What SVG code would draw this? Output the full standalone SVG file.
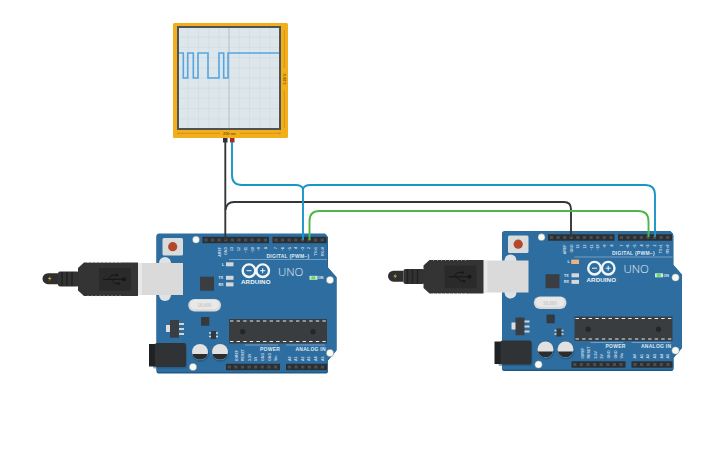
<svg xmlns="http://www.w3.org/2000/svg" width="725" height="453" viewBox="0 0 725 453">
<style>
text{font-family:"Liberation Sans",Arial,sans-serif}
.pin{font-size:3.6px;fill:#cfdde9;font-weight:bold}
.pe{text-anchor:end}
.sec{font-size:5px;fill:#dfe9f2;font-weight:bold;letter-spacing:.25px}
.small{font-size:3.6px;fill:#e3edf5;font-weight:bold}
.logo{font-size:6.2px;fill:#eef4f9;font-weight:bold;letter-spacing:.1px}
.uno{font-family:"Open Sans","Liberation Sans",sans-serif;font-size:11.500px;font-weight:300;fill:#e4edf4}
.xtal{font-size:4.5px;fill:#c9c9c9;font-weight:bold}
.hdr{fill:#2b2f32}
.hp{stroke:#4a4e51;stroke-width:3;stroke-dasharray:3.2 3.4;fill:none}
.sl{stroke:#8fb6d4;stroke-width:.7;fill:none}
.hole{fill:#fbf9ee;stroke:#1f5a87;stroke-width:.4}
.led{fill:#d3d8dc}
.wire{fill:none;stroke-width:1.9;stroke-linecap:butt}
.grid{stroke:#cfdbe1;stroke-width:.6;fill:none}
.scopeText{font-size:3.8px;fill:#7a5a10;font-weight:bold}
.axis{stroke:#b98512;stroke-width:.6;fill:none}
</style>
<defs>
<g id="board-art">
<path d="M159 234H325L328 237V267L336.500 277V350L328 360V371Q328 373 326 373H158.500Q156.500 373 156.500 371V236Q156.500 234 159 234Z" fill="#1f5a87" transform="translate(0,.6)"/>
<path d="M159 233.500H325L327.500 236V267L336.500 277V350L328 360V370.500Q328 372 326 372H158.500Q156.500 372 156.500 370V236Q156.500 233.500 159 233.500Z" fill="#2e6d9f"/>
<rect class="hdr" x="202.500" y="236.800" width="66.500" height="6.400"/>
<line class="hp" x1="204.400" y1="240" x2="268" y2="240"/>
<rect class="hdr" x="272.500" y="236.800" width="54" height="6.400"/>
<line class="hp" x1="274.400" y1="240" x2="326" y2="240"/>
<rect class="hdr" x="226" y="363.800" width="54" height="6.400"/>
<line class="hp" x1="227.700" y1="367" x2="279" y2="367"/>
<rect class="hdr" x="286" y="363.800" width="41" height="6.400"/>
<line class="hp" x1="287.900" y1="367" x2="326" y2="367"/>
<rect x="162.500" y="238" width="20.500" height="17.500" rx="1.500" fill="#d9dcdd"/>
<circle cx="172.700" cy="246.700" r="4.600" fill="#b4482a"/>
<circle class="hole" cx="196" cy="239.700" r="3.600"/>
<circle class="hole" cx="330" cy="280" r="3.800"/>
<circle class="hole" cx="330" cy="353" r="3.800"/>
<circle class="hole" cx="193" cy="367" r="3.800"/>
<rect x="159" y="257" width="12" height="44" rx="6" fill="#dfe3e6"/>
<rect x="200" y="276.700" width="14" height="14" fill="#3a3e42"/>
<rect class="led" x="226" y="262.300" width="7.500" height="4"/>
<rect class="led" x="226" y="275.800" width="7.500" height="4"/>
<rect class="led" x="226" y="282.400" width="7.500" height="4"/>
<rect x="309.500" y="275.800" width="8" height="4" fill="#d3e6d5"/>
<rect x="311.300" y="276.300" width="4" height="3" fill="#5fdc5f"/>
<line class="sl" x1="229" y1="259.500" x2="327" y2="259.500"/>
<circle cx="249" cy="270.700" r="6.300" fill="none" stroke="#f2f6f9" stroke-width="2.400"/>
<circle cx="262.700" cy="270.700" r="6.300" fill="none" stroke="#f2f6f9" stroke-width="2.400"/>
<path d="M246.500 270.700H251.500M260.200 270.700H265.200M262.700 268.200V273.200" stroke="#f2f6f9" stroke-width="1" fill="none"/>
<rect x="188.300" y="299" width="32.700" height="12.500" rx="6.200" fill="#d9d9d9"/>
<rect x="190" y="299.800" width="29" height="9.500" rx="4.700" fill="#e8e8e8"/>
<rect x="166" y="325" width="4.500" height="7" fill="#dedede"/>
<rect x="170" y="320" width="9" height="17.700" fill="#3a3e42"/>
<path d="M179 324H184M179 329H184M179 334H184" stroke="#d4d4d4" stroke-width="2.200" fill="none"/>
<rect x="201" y="317" width="8.300" height="8.700" rx=".6" fill="#34393d"/>
<path d="M209 333H218M209 336.500H218" stroke="#d9d9d9" stroke-width="1.500" stroke-dasharray="2.500 4"/>
<rect x="211" y="331" width="5" height="8" fill="#34393d"/>
<rect x="229" y="319" width="98" height="24.500" fill="#3a3d40"/>
<line x1="230" y1="321" x2="326.500" y2="321" stroke="#ececec" stroke-width="1.100" stroke-dasharray="3.400 3.200"/>
<line x1="230" y1="341.500" x2="326.500" y2="341.500" stroke="#ececec" stroke-width="1.100" stroke-dasharray="3.400 3.200"/>
<circle cx="242.700" cy="331.700" r="2.700" fill="#24272a"/>
<circle cx="313" cy="331.700" r="2.700" fill="#24272a"/>
<line class="sl" x1="245" y1="345" x2="278" y2="345"/>
<line class="sl" x1="286" y1="345" x2="325" y2="345"/>
<rect x="153" y="344.500" width="34" height="24" rx="1.500" fill="#1f4f75" opacity=".5"/>
<rect x="149" y="344" width="7" height="22.500" fill="#1f2224"/>
<rect x="155" y="343" width="31" height="24" rx="2" fill="#303336"/>
<circle cx="200.500" cy="353.500" r="8.600" fill="#1f5a87" opacity=".7"/>
<circle cx="220.500" cy="353.500" r="8.600" fill="#1f5a87" opacity=".7"/>
<circle cx="200" cy="352" r="8" fill="#e1e1e1"/>
<path d="M192.300 354H207.700A8 8 0 0 1 192.300 354Z" fill="#2b2e30"/>
<circle cx="220" cy="352" r="8" fill="#e1e1e1"/>
<path d="M212.300 354H227.700A8 8 0 0 1 212.300 354Z" fill="#2b2e30"/>
<rect x="138" y="263" width="45" height="32" fill="#dadada"/>
<rect x="138" y="263" width="4" height="32" fill="#e8e8e8"/>
<path d="M84 262.500H138V296H84L78 290.500V268Z" fill="#343434"/>
<path d="M88 262V263M92 262V263M96 262V263M100 262V263M104 262V263M108 262V263M112 262V263M116 262V263M120 262V263M88 295.500V296.500M92 295.500V296.500M96 295.500V296.500M100 295.500V296.500M104 295.500V296.500M108 295.500V296.500M112 295.500V296.500M116 295.500V296.500M120 295.500V296.500" stroke="#d6d6d6" stroke-width="1"/>
<rect x="99" y="268" width="32" height="22.700" fill="#2a2a2a"/>
<path d="M103 279.300H124M108 279.300L112 275H116M111 279.300L115 283.500H118" stroke="#161616" stroke-width="1" fill="none"/>
<circle cx="124" cy="279.300" r="2" fill="#161616"/>
<circle cx="117" cy="275" r="1.200" fill="#161616"/>
<rect x="117.500" y="282.500" width="2.200" height="2.200" fill="#161616"/>
<rect x="58" y="271.500" width="21" height="15" rx="2" fill="#333"/>
<path d="M62 272V286M67 272V286M72 272V286" stroke="#222" stroke-width="1.500"/>
<path d="M58 273.200H48A5.400 5.400 0 0 0 48 284.200H58Z" fill="#2f2f2f"/>
<path d="M50.500 276L48 279H50L48.500 281.500L51.500 278.300H49.500Z" fill="#f0cf3a"/>
</g>
</defs>
<g id="oscilloscope">
<rect x="173" y="23" width="115" height="115" rx="1.500" fill="#f3ae1b"/>
<rect x="178" y="27" width="102" height="102" fill="#dce6eb" stroke="#4f5356" stroke-width="2"/>
<path class="grid" d="M188.300 28V128M198.500 28V128M208.700 28V128M218.900 28V128M239.300 28V128M249.500 28V128M259.700 28V128M269.900 28V128M179 37.200H279M179 47.400H279M179 57.600H279M179 67.800H279M179 78H279M179 88.200H279M179 98.400H279M179 108.600H279M179 118.800H279"/>
<line x1="229" y1="28" x2="229" y2="128" stroke="#a9b5bb" stroke-width=".8"/>
<path d="M179 53H183.300V78H187.700V53H193.300V78H198V53H208V78H219V53H223.700V78H228V53H279" fill="none" stroke="#55a5e0" stroke-width="1.600"/>
<path class="axis" d="M178 133.300H220M240 133.300H280M178 132V134.600M280 132V134.600M284.300 30V68M284.300 90V128"/>
<text class="scopeText" x="229.500" y="134.800" text-anchor="middle">200 ms</text>
<text class="scopeText" transform="translate(285.700 79) rotate(-90)" text-anchor="middle">5.00 V</text>
<rect x="223" y="138" width="4.500" height="4.500" fill="#2f3234"/>
<rect x="230" y="138" width="4.500" height="4.500" fill="#a92727"/>
</g>
<g id="arduino-1">
<use href="#board-art"/>
<g class="pin">
<text class="pe" transform="translate(220.600 247) rotate(-90)">AREF</text>
<text class="pe" transform="translate(227 247) rotate(-90)">GND</text>
<text class="pe" transform="translate(233.300 247) rotate(-90)">13</text>
<text class="pe" transform="translate(240.300 247) rotate(-90)">12</text>
<text class="pe" transform="translate(247 247) rotate(-90)">~11</text>
<text class="pe" transform="translate(253.600 247) rotate(-90)">~10</text>
<text class="pe" transform="translate(260.300 247) rotate(-90)">~9</text>
<text class="pe" transform="translate(267 247) rotate(-90)">8</text>
<text class="pe" transform="translate(277.300 247) rotate(-90)">7</text>
<text class="pe" transform="translate(283.900 247) rotate(-90)">~6</text>
<text class="pe" transform="translate(290.500 247) rotate(-90)">~5</text>
<text class="pe" transform="translate(297.100 247) rotate(-90)">4</text>
<text class="pe" transform="translate(303.700 247) rotate(-90)">~3</text>
<text class="pe" transform="translate(310.300 247) rotate(-90)">2</text>
<text class="pe" transform="translate(316.900 247) rotate(-90)">TX&gt;1</text>
<text class="pe" transform="translate(323.500 247) rotate(-90)">RX&lt;0</text>
<text transform="translate(238 361) rotate(-90)">IOREF</text>
<text transform="translate(244 361) rotate(-90)">RESET</text>
<text transform="translate(251 361) rotate(-90)">3.3V</text>
<text transform="translate(257.300 361) rotate(-90)">5V</text>
<text transform="translate(264.300 361) rotate(-90)">GND</text>
<text transform="translate(271 361) rotate(-90)">GND</text>
<text transform="translate(277.300 361) rotate(-90)">Vin</text>
<text transform="translate(290.600 361) rotate(-90)">A0</text>
<text transform="translate(297.200 361) rotate(-90)">A1</text>
<text transform="translate(303.800 361) rotate(-90)">A2</text>
<text transform="translate(310.400 361) rotate(-90)">A3</text>
<text transform="translate(317 361) rotate(-90)">A4</text>
<text transform="translate(323.600 361) rotate(-90)">A5</text>
</g>
<text class="sec" x="266.500" y="257.700">DIGITAL (PWM~)</text>
<text class="small" x="222" y="265.600">L</text>
<text class="small" x="218.500" y="279">TX</text>
<text class="small" x="218.500" y="285.600">RX</text>
<text class="small" x="318" y="279">ON</text>
<text class="logo" x="241" y="284.200">ARDUINO</text>
<text class="uno" x="278" y="275.700">UNO</text>
<text class="xtal" x="204.500" y="307" text-anchor="middle">16.000</text>
<text class="sec" x="260" y="350.700">POWER</text>
<text class="sec" x="295.500" y="350.700">ANALOG IN</text>
</g>
<g id="arduino-2" transform="translate(345.500 -2.500)">
<use href="#board-art"/>
<rect x="226" y="262.300" width="7.500" height="4" fill="#efb27a"/>
<g class="pin">
<text class="pe" transform="translate(220.600 247) rotate(-90)">AREF</text>
<text class="pe" transform="translate(227 247) rotate(-90)">GND</text>
<text class="pe" transform="translate(233.300 247) rotate(-90)">13</text>
<text class="pe" transform="translate(240.300 247) rotate(-90)">12</text>
<text class="pe" transform="translate(247 247) rotate(-90)">~11</text>
<text class="pe" transform="translate(253.600 247) rotate(-90)">~10</text>
<text class="pe" transform="translate(260.300 247) rotate(-90)">~9</text>
<text class="pe" transform="translate(267 247) rotate(-90)">8</text>
<text class="pe" transform="translate(277.300 247) rotate(-90)">7</text>
<text class="pe" transform="translate(283.900 247) rotate(-90)">~6</text>
<text class="pe" transform="translate(290.500 247) rotate(-90)">~5</text>
<text class="pe" transform="translate(297.100 247) rotate(-90)">4</text>
<text class="pe" transform="translate(303.700 247) rotate(-90)">~3</text>
<text class="pe" transform="translate(310.300 247) rotate(-90)">2</text>
<text class="pe" transform="translate(316.900 247) rotate(-90)">TX&gt;1</text>
<text class="pe" transform="translate(323.500 247) rotate(-90)">RX&lt;0</text>
<text transform="translate(238 361) rotate(-90)">IOREF</text>
<text transform="translate(244 361) rotate(-90)">RESET</text>
<text transform="translate(251 361) rotate(-90)">3.3V</text>
<text transform="translate(257.300 361) rotate(-90)">5V</text>
<text transform="translate(264.300 361) rotate(-90)">GND</text>
<text transform="translate(271 361) rotate(-90)">GND</text>
<text transform="translate(277.300 361) rotate(-90)">Vin</text>
<text transform="translate(290.600 361) rotate(-90)">A0</text>
<text transform="translate(297.200 361) rotate(-90)">A1</text>
<text transform="translate(303.800 361) rotate(-90)">A2</text>
<text transform="translate(310.400 361) rotate(-90)">A3</text>
<text transform="translate(317 361) rotate(-90)">A4</text>
<text transform="translate(323.600 361) rotate(-90)">A5</text>
</g>
<text class="sec" x="266.500" y="257.700">DIGITAL (PWM~)</text>
<text class="small" x="222" y="265.600">L</text>
<text class="small" x="218.500" y="279">TX</text>
<text class="small" x="218.500" y="285.600">RX</text>
<text class="small" x="318" y="279">ON</text>
<text class="logo" x="241" y="284.200">ARDUINO</text>
<text class="uno" x="278" y="275.700">UNO</text>
<text class="xtal" x="204.500" y="307" text-anchor="middle">16.000</text>
<text class="sec" x="260" y="350.700">POWER</text>
<text class="sec" x="295.500" y="350.700">ANALOG IN</text>
</g>
<g id="connectors">
<path class="wire" stroke="#33373a" d="M225.300 142V240"/>
<path class="wire" stroke="#33373a" d="M225.500 210Q226.500 202 234 202H564Q571 202 571 209V237"/>
<path class="wire" stroke="#4cb748" d="M309.500 240V221Q309.500 211 319.500 211H638Q648.500 211 648.500 221V237"/>
<path class="wire" stroke="#1a96c6" d="M232 142V175Q232 185 242 185H296Q301 185 303 188.500Q305 185 310 185H645Q655 185 655 195V237"/>
<path class="wire" stroke="#1a96c6" d="M303 188V240"/>
</g>
</svg>
